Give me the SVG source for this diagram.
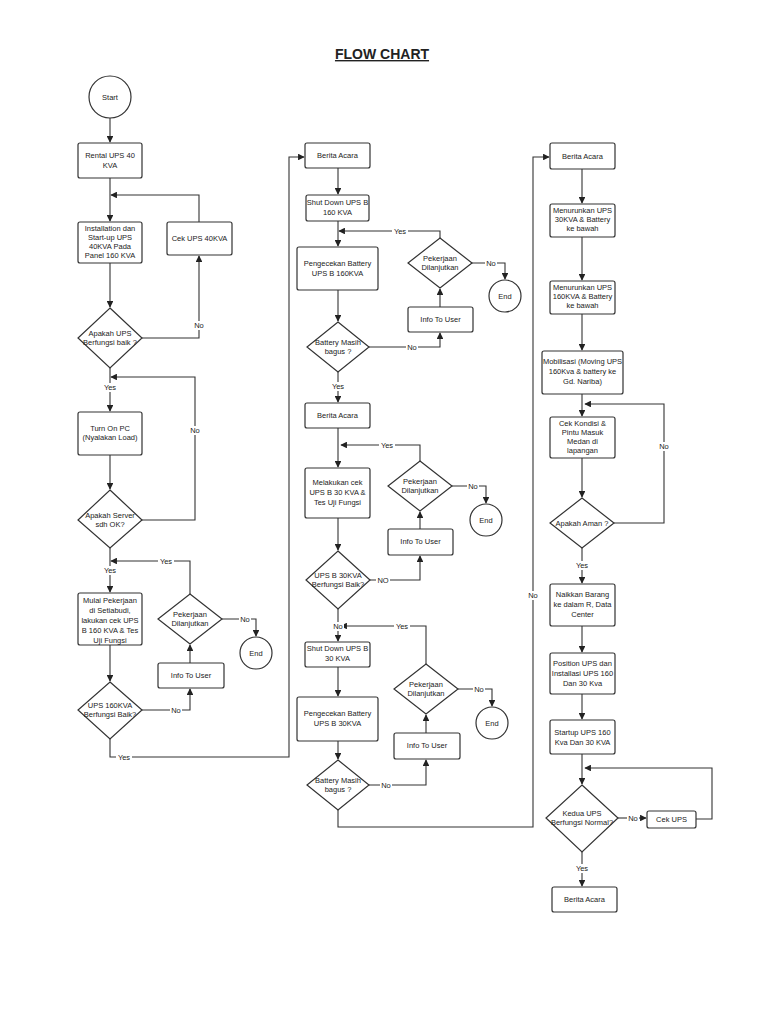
<svg xmlns="http://www.w3.org/2000/svg" width="768" height="1024" viewBox="0 0 768 1024">
<style>
.n rect,.n circle,.n polygon{fill:#fff;stroke:#333;stroke-width:1.2}
text{font-family:"Liberation Sans",Arial,sans-serif;font-size:7.5px;fill:#222;text-anchor:middle}
.c path{fill:none;stroke:#333;stroke-width:1.1}
.lb{fill:#fff;stroke:none}
</style>
<defs><marker id="a" viewBox="0 0 10 10" refX="9" refY="5" markerWidth="6" markerHeight="6" orient="auto"><path d="M0,0L10,5L0,10z" fill="#222"/></marker></defs>
<rect width="768" height="1024" fill="#fff"/>
<text x="382" y="59" style="font-size:14px;font-weight:bold" text-decoration="underline">FLOW CHART</text>
<g class="c">
<path d="M110,118V142" marker-end="url(#a)"/>
<path d="M110,178V221" marker-end="url(#a)"/>
<path d="M199,222V195H111" marker-end="url(#a)"/>
<path d="M110,263V307" marker-end="url(#a)"/>
<path d="M142,338H199V256" marker-end="url(#a)"/>
<path d="M110,368V411" marker-end="url(#a)"/>
<path d="M142,520H195V377H111" marker-end="url(#a)"/>
<path d="M110,455V489" marker-end="url(#a)"/>
<path d="M110,548V592" marker-end="url(#a)"/>
<path d="M190,594V561H111" marker-end="url(#a)"/>
<path d="M222,619H256V636" marker-end="url(#a)"/>
<path d="M190,663V645" marker-end="url(#a)"/>
<path d="M110,645V681" marker-end="url(#a)"/>
<path d="M142,710H190V689" marker-end="url(#a)"/>
<path d="M110,739V757H289V157H304" marker-end="url(#a)"/>
<path d="M338,168V194" marker-end="url(#a)"/>
<path d="M338,221V246" marker-end="url(#a)"/>
<path d="M440,238V231H339" marker-end="url(#a)"/>
<path d="M472,263H505V279" marker-end="url(#a)"/>
<path d="M440,307V289" marker-end="url(#a)"/>
<path d="M338,290V321" marker-end="url(#a)"/>
<path d="M369,347H440V333" marker-end="url(#a)"/>
<path d="M338,372V402" marker-end="url(#a)"/>
<path d="M338,428V467" marker-end="url(#a)"/>
<path d="M420,461V445H341" marker-end="url(#a)"/>
<path d="M452,486H486V503" marker-end="url(#a)"/>
<path d="M420,529V512" marker-end="url(#a)"/>
<path d="M338,518V550" marker-end="url(#a)"/>
<path d="M370,580H420V556" marker-end="url(#a)"/>
<path d="M338,609V641" marker-end="url(#a)"/>
<path d="M426,664V626H341" marker-end="url(#a)"/>
<path d="M458,689H492V706" marker-end="url(#a)"/>
<path d="M426,733V715" marker-end="url(#a)"/>
<path d="M338,667V696" marker-end="url(#a)"/>
<path d="M338,741V759" marker-end="url(#a)"/>
<path d="M369,785H426V760" marker-end="url(#a)"/>
<path d="M338,810V827H533V157H549" marker-end="url(#a)"/>
<path d="M582,169V203" marker-end="url(#a)"/>
<path d="M582,237V280" marker-end="url(#a)"/>
<path d="M582,314V350" marker-end="url(#a)"/>
<path d="M582,394V416" marker-end="url(#a)"/>
<path d="M614,523H664V404H585" marker-end="url(#a)"/>
<path d="M582,458V497" marker-end="url(#a)"/>
<path d="M582,548V583" marker-end="url(#a)"/>
<path d="M582,626V652" marker-end="url(#a)"/>
<path d="M582,694V719" marker-end="url(#a)"/>
<path d="M582,754V784" marker-end="url(#a)"/>
<path d="M618,818H646" marker-end="url(#a)"/>
<path d="M696,819H712V768H585" marker-end="url(#a)"/>
<path d="M582,852V886" marker-end="url(#a)"/>
</g>
<g id="labels">
<rect class="lb" x="193" y="321" width="12" height="9"/><text x="199" y="328">No</text>
<rect class="lb" x="102" y="383" width="16" height="9"/><text x="110" y="390">Yes</text>
<rect class="lb" x="189" y="426" width="12" height="9"/><text x="195" y="433">No</text>
<rect class="lb" x="102" y="566" width="16" height="9"/><text x="110" y="573">Yes</text>
<rect class="lb" x="158" y="557" width="16" height="9"/><text x="166" y="564">Yes</text>
<rect class="lb" x="239" y="615" width="12" height="9"/><text x="245" y="622">No</text>
<rect class="lb" x="170" y="706" width="12" height="9"/><text x="176" y="713">No</text>
<rect class="lb" x="116" y="753" width="16" height="9"/><text x="124" y="760">Yes</text>
<rect class="lb" x="392" y="227" width="16" height="9"/><text x="400" y="234">Yes</text>
<rect class="lb" x="485" y="259" width="12" height="9"/><text x="491" y="266">No</text>
<rect class="lb" x="406" y="343" width="12" height="9"/><text x="412" y="350">No</text>
<rect class="lb" x="330" y="382" width="16" height="9"/><text x="338" y="389">Yes</text>
<rect class="lb" x="379" y="441" width="16" height="9"/><text x="387" y="448">Yes</text>
<rect class="lb" x="467" y="482" width="12" height="9"/><text x="473" y="489">No</text>
<rect class="lb" x="376" y="576" width="14" height="9"/><text x="383" y="583">NO</text>
<rect class="lb" x="332" y="622" width="12" height="9"/><text x="338" y="629">No</text>
<rect class="lb" x="394" y="622" width="16" height="9"/><text x="402" y="629">Yes</text>
<rect class="lb" x="473" y="685" width="12" height="9"/><text x="479" y="692">No</text>
<rect class="lb" x="380" y="781" width="12" height="9"/><text x="386" y="788">No</text>
<rect class="lb" x="527" y="591" width="12" height="9"/><text x="533" y="598">No</text>
<rect class="lb" x="658" y="442" width="12" height="9"/><text x="664" y="449">No</text>
<rect class="lb" x="574" y="561" width="16" height="9"/><text x="582" y="568">Yes</text>
<rect class="lb" x="627" y="814" width="12" height="9"/><text x="633" y="821">No</text>
<rect class="lb" x="574" y="864" width="16" height="9"/><text x="582" y="871">Yes</text>
</g>
<g id="start" class="n"><circle cx="110" cy="97" r="21"/><text x="110" y="100">Start</text></g>
<g id="rental" class="n"><rect x="78" y="143" width="64" height="35" rx="2"/><text x="110" y="158">Rental UPS 40</text><text x="110" y="168">KVA</text></g>
<g id="install" class="n"><rect x="78" y="222" width="64" height="41" rx="2"/><text x="110" y="231">Installation dan</text><text x="110" y="240">Start-up UPS</text><text x="110" y="249">40KVA Pada</text><text x="110" y="258">Panel 160 KVA</text></g>
<g id="cek40" class="n"><rect x="167" y="222" width="65" height="33" rx="2"/><text x="199.5" y="241">Cek UPS 40KVA</text></g>
<g id="d1" class="n"><polygon points="110,308 142,338 110,368 78,338"/><text x="110" y="336">Apakah UPS</text><text x="110" y="345">Berfungsi baik ?</text></g>
<g id="turnon" class="n"><rect x="78" y="412" width="64" height="43" rx="2"/><text x="110" y="431">Turn On PC</text><text x="110" y="440">(Nyalakan Load)</text></g>
<g id="d2" class="n"><polygon points="110,490 142,520 110,548 78,520"/><text x="110" y="518">Apakah  Server</text><text x="110" y="527">sdh OK?</text></g>
<g id="mulai" class="n"><rect x="78" y="593" width="64" height="52" rx="2"/><text x="110" y="603">Mulai Pekerjaan</text><text x="110" y="613">di  Setiabudi,</text><text x="110" y="623">lakukan cek UPS</text><text x="110" y="633">B 160 KVA &amp; Tes</text><text x="110" y="643">Uji Fungsi</text></g>
<g id="pk1" class="n"><polygon points="190,594 222,619 190,644 158,619"/><text x="190" y="617">Pekerjaan</text><text x="190" y="626">Dilanjutkan</text></g>
<g id="end1" class="n"><circle cx="256" cy="653" r="16"/><text x="256" y="656">End</text></g>
<g id="info1" class="n"><rect x="158" y="663" width="66" height="25" rx="2"/><text x="191" y="678">Info To User</text></g>
<g id="d3" class="n"><polygon points="110,682 142,710 110,739 78,710"/><text x="110" y="708">UPS 160KVA</text><text x="110" y="717">Berfungsi Baik?</text></g>
<g id="ba1" class="n"><rect x="305" y="143" width="65" height="25" rx="2"/><text x="337.5" y="158">Berita Acara</text></g>
<g id="sd1" class="n"><rect x="306" y="195" width="63" height="26" rx="2"/><text x="337.5" y="205">Shut Down UPS B</text><text x="337.5" y="215">160 KVA</text></g>
<g id="pb1" class="n"><rect x="297" y="247" width="81" height="43" rx="2"/><text x="337.5" y="266">Pengecekan Battery</text><text x="337.5" y="276">UPS B 160KVA</text></g>
<g id="pk2" class="n"><polygon points="440,238 472,263 440,288 408,263"/><text x="440" y="261">Pekerjaan</text><text x="440" y="270">Dilanjutkan</text></g>
<g id="end2" class="n"><circle cx="505" cy="296" r="16"/><text x="505" y="299">End</text></g>
<g id="info2" class="n"><rect x="408" y="307" width="65" height="25" rx="2"/><text x="440.5" y="322">Info To User</text></g>
<g id="bm1" class="n"><polygon points="338,322 369,347 338,372 307,347"/><text x="338" y="345">Battery Masih</text><text x="338" y="354">bagus ?</text></g>
<g id="ba2" class="n"><rect x="305" y="403" width="65" height="25" rx="2"/><text x="337.5" y="418">Berita Acara</text></g>
<g id="mel" class="n"><rect x="305" y="468" width="65" height="50" rx="2"/><text x="337.5" y="485">Melakukan cek</text><text x="337.5" y="495">UPS B 30 KVA &amp;</text><text x="337.5" y="505">Tes Uji Fungsi</text></g>
<g id="pk3" class="n"><polygon points="420,461 452,486 420,511 388,486"/><text x="420" y="484">Pekerjaan</text><text x="420" y="493">Dilanjutkan</text></g>
<g id="end3" class="n"><circle cx="486" cy="520" r="16"/><text x="486" y="523">End</text></g>
<g id="info3" class="n"><rect x="388" y="529" width="65" height="26" rx="2"/><text x="420.5" y="544">Info To User</text></g>
<g id="d30" class="n"><polygon points="338,551 370,580 338,609 306,580"/><text x="338" y="578">UPS B 30KVA</text><text x="338" y="587">Berfungsi Baik?</text></g>
<g id="sd2" class="n"><rect x="305" y="642" width="65" height="25" rx="2"/><text x="337.5" y="651">Shut Down UPS B</text><text x="337.5" y="661">30 KVA</text></g>
<g id="pk4" class="n"><polygon points="426,664 458,689 426,714 394,689"/><text x="426" y="687">Pekerjaan</text><text x="426" y="696">Dilanjutkan</text></g>
<g id="end4" class="n"><circle cx="492" cy="723" r="16"/><text x="492" y="726">End</text></g>
<g id="pb2" class="n"><rect x="297" y="697" width="81" height="44" rx="2"/><text x="337.5" y="716">Pengecekan Battery</text><text x="337.5" y="726">UPS B 30KVA</text></g>
<g id="info4" class="n"><rect x="394" y="733" width="66" height="26" rx="2"/><text x="427" y="748">Info To User</text></g>
<g id="bm2" class="n"><polygon points="338,760 369,785 338,810 307,785"/><text x="338" y="783">Battery Masih</text><text x="338" y="792">bagus ?</text></g>
<g id="ba3" class="n"><rect x="550" y="143" width="65" height="26" rx="2"/><text x="582.5" y="159">Berita Acara</text></g>
<g id="mn1" class="n"><rect x="550" y="204" width="65" height="33" rx="2"/><text x="582.5" y="213">Menurunkan UPS</text><text x="582.5" y="222">30KVA &amp; Battery</text><text x="582.5" y="231">ke bawah</text></g>
<g id="mn2" class="n"><rect x="550" y="281" width="65" height="33" rx="2"/><text x="582.5" y="290">Menurunkan UPS</text><text x="582.5" y="299">160KVA &amp; Battery</text><text x="582.5" y="308">ke bawah</text></g>
<g id="mob" class="n"><rect x="542" y="351" width="81" height="43" rx="2"/><text x="582.5" y="364">Mobilisasi (Moving UPS</text><text x="582.5" y="374">160Kva &amp; battery ke</text><text x="582.5" y="384">Gd. Nariba)</text></g>
<g id="cekk" class="n"><rect x="550" y="417" width="65" height="41" rx="2"/><text x="582.5" y="426">Cek Kondisi &amp;</text><text x="582.5" y="435">Pintu Masuk</text><text x="582.5" y="444">Medan di</text><text x="582.5" y="453">lapangan</text></g>
<g id="aman" class="n"><polygon points="582,498 614,523 582,548 550,523"/><text x="582" y="526">Apakah Aman ?</text></g>
<g id="naik" class="n"><rect x="550" y="584" width="65" height="42" rx="2"/><text x="582.5" y="597">Naikkan Barang</text><text x="582.5" y="607">ke dalam R, Data</text><text x="582.5" y="617">Center</text></g>
<g id="pos" class="n"><rect x="550" y="653" width="65" height="41" rx="2"/><text x="582.5" y="666">Position UPS dan</text><text x="582.5" y="676">Installasi UPS 160</text><text x="582.5" y="686">Dan 30 Kva</text></g>
<g id="stup" class="n"><rect x="550" y="720" width="65" height="34" rx="2"/><text x="582.5" y="735">Startup UPS 160</text><text x="582.5" y="745">Kva Dan 30 KVA</text></g>
<g id="kedua" class="n"><polygon points="582,785 618,818 582,852 546,818"/><text x="582" y="816">Kedua UPS</text><text x="582" y="825">Berfungsi Normal?</text></g>
<g id="cekups" class="n"><rect x="647" y="811" width="49" height="17" rx="2"/><text x="671.5" y="822">Cek UPS</text></g>
<g id="ba4" class="n"><rect x="552" y="887" width="65" height="25" rx="2"/><text x="584.5" y="902">Berita Acara</text></g>
</svg>
